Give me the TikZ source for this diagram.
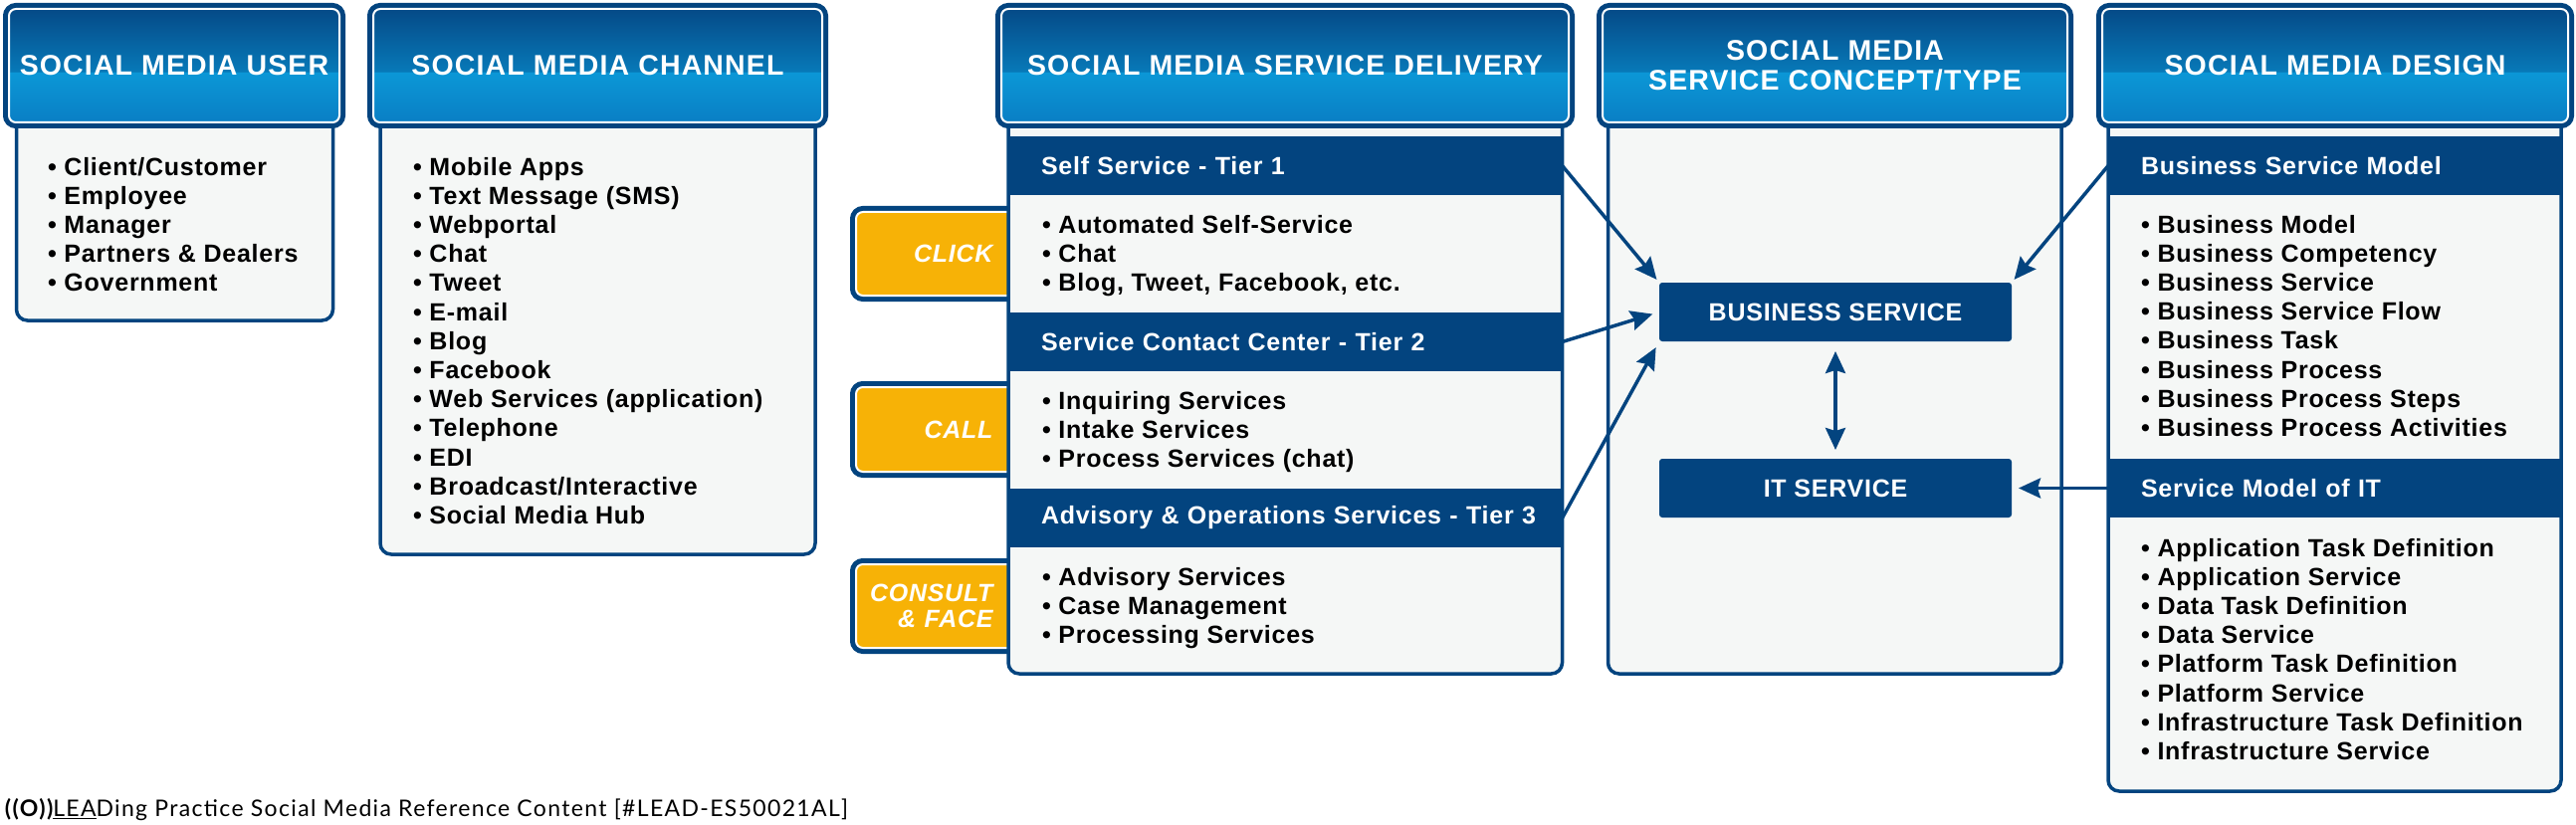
\documentclass[tikz,border=0pt]{standalone}
\usepackage{fontspec}
\usetikzlibrary{arrows.meta}
\setmainfont{Liberation Sans}
\newfontfamily\hfont{Liberation Sans}[LetterSpace=4]
\newfontfamily\lfont{Liberation Sans}[LetterSpace=3]
\newfontfamily\ffont{Lato}[LetterSpace=5.8]
\definecolor{navy}{HTML}{03447F}
\definecolor{panel}{HTML}{F5F7F6}
\definecolor{amber}{HTML}{F7B206}
\definecolor{hA}{HTML}{054A87}
\definecolor{hB}{HTML}{0779B8}
\definecolor{hC}{HTML}{0B97D6}
\definecolor{hD}{HTML}{0A7FC5}
\pgfdeclareverticalshading{hdrsh}{100bp}{color(0bp)=(hD); color(25bp)=(hD); color(47bp)=(hC); color(47.5bp)=(hB); color(75bp)=(hA); color(100bp)=(hA)}
\newcommand\mk[7]{%
  \pgfmathsetmacro\mkw{#4-#2}\pgfmathsetmacro\mkh{#5-#3}%
  \pgfmathsetmacro\mkx{(#2+#4)/2}\pgfmathsetmacro\mky{(#3+#5)/2}%
  \pgfmathsetmacro\mkt{#4-#2-66}%
  \node[#6,minimum width=\mkw pt,minimum height=\mkh pt] (#1) at (\mkx,\mky) {#7};}
\newcommand\li[1]{\makebox[16.5pt][l]{•}#1}
\newcommand\tabgap{\rule{32.5pt}{0pt}}
\tikzset{
  base/.style={inner sep=0pt,outer sep=0pt},
  hdrbox/.style={base,draw=white,line width=2pt,rounded corners=7pt,shading=hdrsh,
    preaction={draw=navy,line width=12pt},
    align=center,text=white,font=\hfont\bfseries\fontsize{28.5}{29.5}\selectfont},
  tabbox/.style={base,draw=white,line width=2pt,rounded corners=7pt,fill=amber,
    preaction={draw=navy,line width=12pt},
    align=right,text=white,text width=\mkw pt,font=\lfont\bfseries\itshape\fontsize{25}{25.5}\selectfont},
  bodybox/.style={base,draw=navy,line width=3.5pt,fill=panel,rounded corners=11pt},
  barbox/.style={base,fill=navy,text=white,align=left,inner xsep=33pt,text width=\mkt pt,
    font=\lfont\bfseries\fontsize{25}{29}\selectfont},
  svcbox/.style={base,fill=navy,text=white,rounded corners=3pt,font=\lfont\bfseries\fontsize{25}{29}\selectfont},
  listtxt/.style={base,anchor=north west,align=left,text=black,font=\lfont\bfseries\fontsize{25}{29.2}\selectfont},
  arr/.style={draw=navy,line width=3.5pt,-{Stealth[length=22pt,width=20pt,inset=3pt]}},
  darr/.style={draw=navy,line width=3.5pt,{Stealth[length=22pt,width=20pt,inset=3pt]}-{Stealth[length=22pt,width=20pt,inset=3pt]}},
}
\begin{document}
\begin{tikzpicture}[x=1pt,y=-1pt]
\useasboundingbox[fill=white] (0,0) rectangle (2588,829);
% tabs
\mk{click}{860}{213}{1030}{297}{tabbox}{CLICK\tabgap}
\mk{call}{860}{389}{1030}{474}{tabbox}{CALL\tabgap}
\mk{consult}{860}{567}{1030}{651}{tabbox}{CONSULT\tabgap\\\& FACE\tabgap}
% bodies
\mk{b1}{16.5}{100}{334.5}{322}{bodybox}{}
\mk{b2}{382}{100}{819}{557}{bodybox}{}
\mk{b3}{1013}{100}{1569.5}{677}{bodybox}{}
\mk{b4}{1615.5}{100}{2071}{677}{bodybox}{}
\mk{b5}{2118}{100}{2573}{795}{bodybox}{}
% bars
\mk{t1}{1013}{137}{1569.5}{196}{barbox}{Self Service - Tier 1}
\mk{t2}{1013}{314}{1569.5}{373}{barbox}{Service Contact Center - Tier 2}
\mk{t3}{1013}{491}{1569.5}{550}{barbox}{\mbox{Advisory \& Operations Services - Tier 3}}
\mk{d1}{2118}{137}{2573}{196}{barbox}{Business Service Model}
\mk{d2}{2118}{461}{2573}{520}{barbox}{Service Model of IT}
% headers
\mk{h1}{9}{9}{341}{123}{hdrbox}{SOCIAL MEDIA USER}
\mk{h2}{375}{9}{826}{123}{hdrbox}{SOCIAL MEDIA CHANNEL}
\mk{h3}{1006}{9}{1576}{123}{hdrbox}{SOCIAL MEDIA SERVICE DELIVERY}
\mk{h4}{1610}{9}{2077}{123}{hdrbox}{SOCIAL MEDIA\\SERVICE CONCEPT/TYPE}
\mk{h5}{2112}{9}{2580}{123}{hdrbox}{SOCIAL MEDIA DESIGN}
% lists
\node[listtxt] (l1) at (48,158) {\li{Client/Customer}\\\li{Employee}\\\li{Manager}\\\li{Partners \& Dealers}\\\li{Government}};
\node[listtxt] (l2) at (415,158) {\li{Mobile Apps}\\\li{Text Message (SMS)}\\\li{Webportal}\\\li{Chat}\\\li{Tweet}\\\li{E-mail}\\\li{Blog}\\\li{Facebook}\\\li{Web Services (application)}\\\li{Telephone}\\\li{EDI}\\\li{Broadcast/Interactive}\\\li{Social Media Hub}};
\node[listtxt] (l3) at (1047,216) {\li{Automated Self-Service}\\\li{Chat}\\\li{Blog, Tweet, Facebook, etc.}};
\node[listtxt] (l4) at (1047,393) {\li{Inquiring Services}\\\li{Intake Services}\\\li{Process Services (chat)}};
\node[listtxt] (l5) at (1047,570) {\li{Advisory Services}\\\li{Case Management}\\\li{Processing Services}};
\node[listtxt] (l6) at (2151,216) {\li{Business Model}\\\li{Business Competency}\\\li{Business Service}\\\li{Business Service Flow}\\\li{Business Task}\\\li{Business Process}\\\li{Business Process Steps}\\\li{Business Process Activities}};
\node[listtxt] (l7) at (2151,541) {\li{Application Task Definition}\\\li{Application Service}\\\li{Data Task Definition}\\\li{Data Service}\\\li{Platform Task Definition}\\\li{Platform Service}\\\li{Infrastructure Task Definition}\\\li{Infrastructure Service}};
% service boxes
\mk{bs}{1667}{284}{2021}{343}{svcbox}{BUSINESS SERVICE}
\mk{it}{1667}{461}{2021}{520}{svcbox}{IT SERVICE}
% connectors
\draw[arr,shorten >=4pt] (t1.east) -- (bs.north west);
\draw[arr,shorten >=7pt] (t2.east) -- (bs.west);
\draw[arr,shorten >=7pt] (t3.east) -- (bs.south west);
\draw[arr,shorten >=4pt] (d1.west) -- (bs.north east);
\draw[arr,shorten >=7pt] (d2.west) -- (it.east);
\draw[darr,shorten >=9pt,shorten <=10pt] (bs.south) -- (it.north);
% footer
\node[base,anchor=west,text=black,font=\ffont\fontsize{23}{24}\selectfont] (foot) at (5,814) {{\bfseries((O))}\underline{LEA}Ding Practice Social Media Reference Content [\#LEAD-ES50021AL]};
\end{tikzpicture}
\end{document}
